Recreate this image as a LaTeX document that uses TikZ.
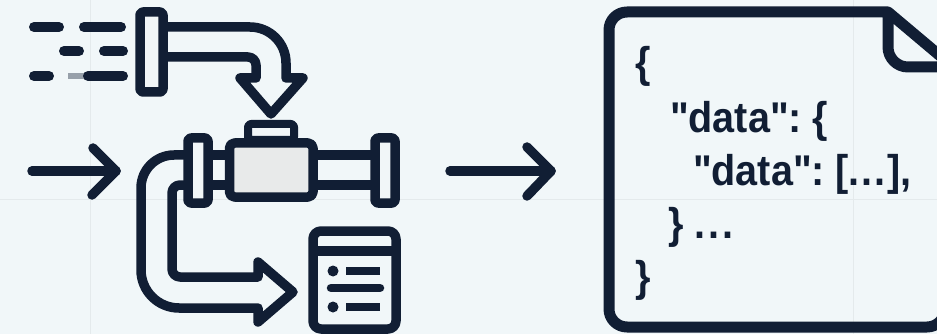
\documentclass[tikz,border=0pt]{standalone}
\usepackage{fontspec}
\newfontfamily\codefont{Liberation Sans}[FakeStretch=0.92,WordSpace=0.6]
\definecolor{ink}{HTML}{111E34}
\definecolor{paper}{HTML}{F1F7F9}
\definecolor{gridline}{HTML}{E4EAEC}
\definecolor{bodyfill}{HTML}{E8EAEA}
\definecolor{capfill}{HTML}{F1F6F8}
\tikzset{
  icon/.style={draw=ink,line width=9.5pt,line join=round,line cap=round},
  flange/.style={icon,rounded corners=3pt,fill=capfill},
  dashline/.style={draw=ink,line width=10pt,line cap=round},
  codetext/.style={text=ink,font=\codefont\fontsize{43}{43}\selectfont\bfseries,anchor=base west,inner sep=0pt,outer sep=0pt},
  faint/.style={draw=gridline,line width=1pt}
}
\begin{document}
\begin{tikzpicture}[x=1pt,y=-1pt]
\useasboundingbox (0,0) rectangle (937,334);
\clip (0,0) rectangle (937,334);
\fill[paper] (0,0) rectangle (937,334);
\draw[faint] (90,0) -- (90,334);
\draw[faint] (0,199) -- (937,199);
\draw[faint] (853,0) -- (853,334);
% speed dashes
\draw[dashline] (34,27) -- (59,27);
\draw[dashline] (84,27) -- (121,27);
\draw[dashline] (64,51) -- (79,51);
\draw[dashline] (104,51) -- (123,51);
\draw[dashline] (34,76) -- (49,76);
\draw[draw=ink!40!paper,line width=6pt] (68,76) -- (84,76);
\draw[dashline] (88,76) -- (123,76);
% top pipe with arrow
\draw[icon] (164,27) -- (250,27) arc[start angle=-90,end angle=0,radius=36] -- (286,78) -- (303,78) -- (271,114) -- (240,78) -- (256,78) -- (256,65) arc[start angle=0,end angle=-90,radius=8] -- (164,57);
\draw[flange] (140,12) rectangle (163,92);
% lower left pipe with arrow
\draw[icon] (187,155) -- (174,155) arc[start angle=-90,end angle=-180,radius=33] -- (141,270) arc[start angle=180,end angle=90,radius=38] -- (258,308) -- (258,322) -- (293,292) -- (258,262) -- (258,277) -- (180,277) arc[start angle=90,end angle=180,radius=8] -- (172,193) arc[start angle=180,end angle=270,radius=8] -- (187,185);
% meter pipes
\draw[icon] (208,155) -- (229,155);
\draw[icon] (208,185) -- (229,185);
\draw[icon] (313,155) -- (375,155);
\draw[icon] (313,185) -- (375,185);
% valve cap, body, flanges
\draw[flange,line width=8pt] (248,124) rectangle (294,140);
\draw[flange,fill=bodyfill,rounded corners=5pt] (229.5,143) rectangle (313,197);
\draw[flange] (188,138) rectangle (208,203);
\draw[flange] (375,138) rectangle (395,203);
% table icon
\draw[icon,rounded corners=8pt] (313,231) rectangle (396,329);
\draw[icon,line cap=butt] (313,251) -- (396,251);
\fill[ink] (333,271) circle[radius=5.5];
\fill[ink] (333,307) circle[radius=5.5];
\draw[draw=ink,line width=8.5pt] (346,271) -- (380,271);
\draw[draw=ink,line width=8.5pt,line cap=round] (331,288) -- (380,288);
\draw[draw=ink,line width=8.5pt] (346,307) -- (380,307);
% flow arrows
\coordinate (inA) at (32,171);
\coordinate (inB) at (116,171);
\draw[icon] (inA) -- (inB);
\draw[icon] (93,148) -- (inB) -- (92,195);
\coordinate (outA) at (450,171);
\coordinate (outB) at (551,171);
\draw[icon] (outA) -- (outB);
\draw[icon] (527,147) -- (outB) -- (527,196);
% document
\draw[icon,line width=11pt,line cap=butt] (888,12) -- (627,12) arc[start angle=-90,end angle=-180,radius=18] -- (609,309) arc[start angle=180,end angle=90,radius=18] -- (927,327) arc[start angle=90,end angle=0,radius=18] -- (945,60) -- (888,12) -- (888,47) arc[start angle=180,end angle=90,radius=20] -- (945,67);
% code
\node[codetext] (l1) at (635,78) {\{};
\node[codetext] (l2) at (670,132) {"data": \{};
\node[codetext] (l3) at (693,185) {"data": [.\kern2pt.\kern2pt.\kern2pt],};
\node[codetext] (l4) at (668,238) {\}\kern11pt.\kern3pt.\kern3pt.};
\node[codetext] (l5) at (635,291) {\}};
\end{tikzpicture}
\end{document}
